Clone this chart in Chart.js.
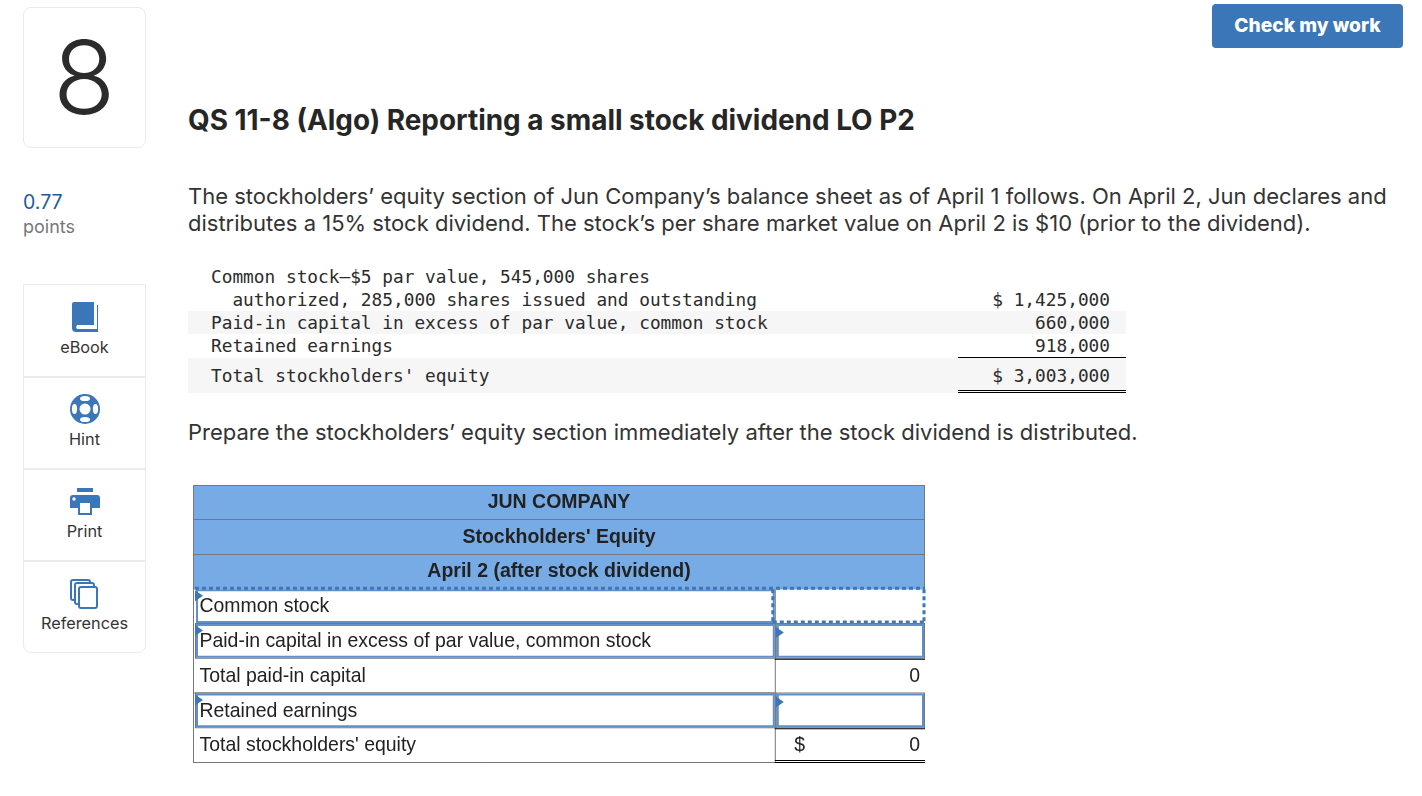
<!DOCTYPE html>
<html lang="en">
<head>
  <meta charset="UTF-8" />
  <title>QS 11-8 (Algo) Reporting a small stock dividend</title>
  <script src="https://cdn.jsdelivr.net/npm/chart.js"></script>
  <style>
    html, body { margin: 0; padding: 0; background: #fff; width: 1422px; height: 796px; overflow: hidden; }
    body { position: relative; font-family: Inter, sans-serif; color: #2b2b2b; }
    .abs { position: absolute; white-space: pre; line-height: 1; }
    .box { position: absolute; box-sizing: border-box; border: 1px solid #ebebeb; }
    .nav { position: absolute; left: 23px; width: 123px; text-align: center; font-size: 16.3px; line-height: 1; color: #333; }
    .nav svg { position: absolute; left: 47px; width: 30px; height: 30px; fill: #3b76b9; }
    .nav span { position: absolute; left: 0; width: 123px; }
    .mono { font-family: "DejaVu Sans Mono", monospace; font-size: 17.8px; }
    .band { position: absolute; left: 188px; width: 938px; background: #f6f6f6; }
    .rule { position: absolute; left: 958px; width: 168px; background: #000; height: 1px; }
    .para { font-size: 22px; left: 188px; color: #333; }
    #button { position: absolute; left: 1212px; top: 4px; width: 191px; height: 44px; border-radius: 4px; background: #3b76b9;
      color: #fff; font-weight: 800; font-size: 19.2px; line-height: 42px; text-align: center; }
    #sheet { position: absolute; left: 190px; top: 480px; }
  </style>
</head>
<body>
  <div class="box" style="left:23px;top:7px;width:123px;height:141px;border-radius:8px"></div>
  <div class="abs" style="left:53px;top:26px;font-size:102px;font-weight:300">8</div>
  <div class="abs" style="left:23px;top:193px;font-size:19.5px;color:#1d5a9c">0.77</div>
  <div class="abs" style="left:23px;top:218px;font-size:18px;color:#777">points</div>

  <div class="box" style="left:23px;top:284px;width:123px;height:369px;border-radius:0 0 8px 8px"></div>
  <div class="box" style="left:23px;top:376px;width:123px;height:1px"></div>
  <div class="box" style="left:23px;top:468px;width:123px;height:1px"></div>
  <div class="box" style="left:23px;top:560px;width:123px;height:1px"></div>

  <div class="nav" style="top:302px">
    <svg viewBox="0 0 30 30"><path d="M4 0h20v23H7a3 3 0 0 0 0 4h20V3h1v27H6a4 4 0 0 1-4-4V2a2 2 0 0 1 2-2z"/></svg>
    <span style="top:37px">eBook</span>
  </div>
  <div class="nav" style="top:394px">
    <svg viewBox="0 0 30 30"><circle cx="15" cy="15" r="15"/><g fill="#fff"><circle cx="15" cy="15" r="5.5"/><ellipse cx="15" cy="4.5" rx="5" ry="2.6"/><ellipse cx="15" cy="25.500" rx="5" ry="2.6"/><ellipse cx="4.5" cy="15" rx="2.6" ry="5"/><ellipse cx="25.500" cy="15" rx="2.6" ry="5"/></g></svg>
    <span style="top:37px">Hint</span>
  </div>
  <div class="nav" style="top:487px">
    <svg viewBox="0 0 30 30"><rect x="7" y="1" width="16" height="4"/><path d="M3 8h24a3 3 0 0 1 3 3v10H0V11a3 3 0 0 1 3-3z"/><circle cx="4" cy="12" r="1.700" fill="#fff"/><rect x="8" y="14" width="14" height="14"/><rect x="10" y="16" width="10" height="10" fill="#fff"/></svg>
    <span style="top:36px">Print</span>
  </div>
  <div class="nav" style="top:579px">
    <svg viewBox="0 0 30 30" style="fill:none;stroke:#3b76b9;stroke-width:2"><rect x="1" y="1" width="19" height="20" rx="2" fill="#fff"/><rect x="5" y="4" width="19" height="21" rx="2" fill="#fff"/><rect x="9" y="8" width="18" height="21" rx="2" fill="#fff"/></svg>
    <span style="top:36px">References</span>
  </div>

  <div id="button">Check my work</div>

  <div class="abs" style="left:188px;top:107px;font-size:27.9px;font-weight:700;color:#262626">QS 11-8 (Algo) Reporting a small stock dividend LO P2</div>
  <div class="abs para" style="top:185px">The stockholders’ equity section of Jun Company’s balance sheet as of April 1 follows. On April 2, Jun declares and</div>
  <div class="abs para" style="top:212px">distributes a 15% stock dividend. The stock’s per share market value on April 2 is $10 (prior to the dividend).</div>
  <div class="abs para" style="top:421px">Prepare the stockholders’ equity section immediately after the stock dividend is distributed.</div>

  <div class="band" style="top:311px;height:23px"></div>
  <div class="band" style="top:358px;height:35px"></div>
  <div class="rule" style="top:357px"></div>
  <div class="rule" style="top:390px"></div>
  <div class="rule" style="top:392px"></div>
  <div id="balance"></div>

  <canvas id="sheet" width="740" height="290" style="width:740px;height:290px"></canvas>

  <script>
    // Balance sheet as of April 1
    const balanceLines = [
      'Common stock—$5 par value, 545,000 shares',
      '  authorized, 285,000 shares issued and outstanding',
      'Paid-in capital in excess of par value, common stock',
      'Retained earnings',
      "Total stockholders' equity"
    ];
    const balanceAmounts = ['', '$ 1,425,000', '660,000', '918,000', '$ 3,003,000'];
    const balanceTextTop = [268, 291, 314, 337, 367];

    // Worksheet rows
    const headerLines = ['JUN COMPANY', "Stockholders' Equity", 'April 2 (after stock dividend)'];
    const rowLabels = ['Common stock', 'Paid-in capital in excess of par value, common stock', 'Total paid-in capital', 'Retained earnings', "Total stockholders' equity"];
    const rowAmounts = [null, null, 0, null, 0];
    const rowPrefix = ['', '', '', '', '$'];
    const labelKinds = ['focusRow', 'select', 'plain', 'select', 'plain'];
    const amountKinds = ['focus', 'input', 'subtotal', 'input', 'total'];

    const BLUE = '#3b76b9';
    const FRAME = '#5f90c9';
    const GRAY = '#777';
    const LABEL_END = 581;
    const TABLE_END = 731;

    const balance = document.getElementById('balance');
    balanceLines.forEach((line, i) => {
      const left = document.createElement('div');
      left.className = 'abs mono';
      left.style.cssText = `left:211px;top:${balanceTextTop[i]}px`;
      left.textContent = line;
      balance.appendChild(left);
      const right = document.createElement('div');
      right.className = 'abs mono';
      right.style.cssText = `right:312px;top:${balanceTextTop[i]}px`;
      right.textContent = balanceAmounts[i];
      balance.appendChild(right);
    });

    // One band per row, laid out by the category scale
    const headerBand = headerLines.map(() => [0, TABLE_END]).concat(rowLabels.map(() => null));
    const labelBand = headerLines.map(() => null).concat(rowLabels.map(() => [0, LABEL_END]));
    const amountBand = headerLines.map(() => null).concat(rowLabels.map(() => [LABEL_END, TABLE_END]));

    function rect(bar) {
      const p = bar.getProps(['x', 'y', 'base', 'height'], true);
      return { l: p.base, r: p.x, t: p.y - p.height / 2, b: p.y + p.height / 2, cy: p.y };
    }

    function line(ctx, x1, y1, x2, y2, color, width, dash) {
      ctx.save();
      ctx.beginPath();
      ctx.strokeStyle = color;
      ctx.lineWidth = width;
      ctx.setLineDash(dash || []);
      ctx.moveTo(x1, y1);
      ctx.lineTo(x2, y2);
      ctx.stroke();
      ctx.restore();
    }

    function triangle(ctx, x, y) {
      ctx.fillStyle = BLUE;
      ctx.beginPath();
      ctx.moveTo(x, y);
      ctx.lineTo(x + 8, y + 5.5);
      ctx.lineTo(x, y + 11);
      ctx.closePath();
      ctx.fill();
    }

    function inputFrame(ctx, r, x1, x2, outer) {
      if (outer) {
        ctx.strokeStyle = GRAY;
        ctx.lineWidth = 1;
        ctx.strokeRect(x1 + 0.5, r.t - 0.5, x2 - x1 - 1, r.b - r.t);
      }
      ctx.strokeStyle = FRAME;
      ctx.lineWidth = 2;
      ctx.strokeRect(x1 + 2, r.t + 1, x2 - x1 - 4, r.b - r.t - 3);
    }

    const worksheetPlugin = {
      id: 'worksheet',
      afterDatasetsDraw(chart) {
        const ctx = chart.ctx;
        const header = chart.getDatasetMeta(0).data;
        const labels = chart.getDatasetMeta(1).data;
        const amounts = chart.getDatasetMeta(2).data;
        const area = chart.chartArea;
        const offset = headerLines.length;
        ctx.save();

        // header rows
        ctx.textBaseline = 'middle';
        ctx.font = 'bold 19.5px "Liberation Sans"';
        ctx.textAlign = 'center';
        headerLines.forEach((text, i) => {
          const r = rect(header[i]);
          line(ctx, r.l, Math.floor(r.t) + 0.5, r.r, Math.floor(r.t) + 0.5, GRAY, 1);
          ctx.fillStyle = '#222';
          ctx.fillText(text, (r.l + r.r) / 2, r.cy);
        });
        line(ctx, area.left + 0.5, area.top, area.left + 0.5, area.bottom, GRAY, 1);
        line(ctx, area.right - 0.5, area.top, area.right - 0.5, rect(amounts[offset]).t, GRAY, 1);

        // body rows
        ctx.font = '19.45px "Liberation Sans"';
        rowLabels.forEach((text, i) => {
          const lab = rect(labels[offset + i]);
          const amt = rect(amounts[offset + i]);
          line(ctx, amt.l + 0.5, amt.t, amt.l + 0.5, amt.b, GRAY, 1);
          if (labelKinds[i] === 'plain') {
            line(ctx, lab.l, lab.b - 0.5, lab.r, lab.b - 0.5, GRAY, 1);
          } else {
            inputFrame(ctx, lab, lab.l + 2, lab.r + 1, labelKinds[i] === 'select');
            triangle(ctx, lab.l + 2, lab.t + 1);
          }
          const kind = amountKinds[i];
          if (kind === 'input') {
            inputFrame(ctx, amt, amt.l + 1, amt.r, true);
            triangle(ctx, amt.l + 1, amt.t + 3);
          } else if (kind === 'focus') {
            const dash = [4, 3];
            line(ctx, lab.l + 2, amt.t - 1, amt.r, amt.t - 1, BLUE, 3, dash);
            line(ctx, amt.l - 2, amt.b - 2, amt.r, amt.b - 2, BLUE, 3, dash);
            line(ctx, amt.l - 2, amt.t, amt.l - 2, amt.b - 2, BLUE, 3, dash);
            line(ctx, amt.r - 1, amt.t, amt.r - 1, amt.b - 2, BLUE, 3, dash);
          } else if (kind === 'subtotal') {
            line(ctx, amt.l, amt.t + 0.5, amt.r, amt.t + 0.5, '#000', 1);
          } else if (kind === 'total') {
            line(ctx, amt.l, amt.t + 0.5, amt.r, amt.t + 0.5, '#000', 1);
            line(ctx, amt.l, amt.b - 2.5, amt.r, amt.b - 2.5, '#000', 1);
            line(ctx, amt.l, amt.b - 0.5, amt.r, amt.b - 0.5, '#000', 1);
          }
          ctx.fillStyle = '#222';
          ctx.textAlign = 'left';
          ctx.fillText(text, lab.l + 6.5, lab.cy + 0.5);
          if (rowPrefix[i]) ctx.fillText(rowPrefix[i], amt.l + 19.5, amt.cy + 0.5);
          if (rowAmounts[i] !== null) {
            ctx.textAlign = 'right';
            ctx.fillText(String(rowAmounts[i]), amt.r - 5, amt.cy + 0.5);
          }
        });
        ctx.restore();
      }
    };

    new Chart(document.getElementById('sheet').getContext('2d'), {
      type: 'bar',
      data: {
        labels: headerLines.concat(rowLabels),
        datasets: [
          { label: 'Header', data: headerBand, backgroundColor: '#77abe6', grouped: false, barPercentage: 1, categoryPercentage: 1 },
          { label: 'Row', data: labelBand, backgroundColor: '#fff', grouped: false, barPercentage: 1, categoryPercentage: 1 },
          { label: 'Amount', data: amountBand, backgroundColor: '#fff', grouped: false, barPercentage: 1, categoryPercentage: 1 }
        ]
      },
      options: {
        indexAxis: 'y',
        responsive: false,
        animation: false,
        layout: { padding: { left: 3, top: 5, right: 5, bottom: 7 } },
        plugins: { legend: { display: false }, tooltip: { enabled: false }, title: { display: false } },
        scales: {
          x: { display: false, min: 0, max: TABLE_END },
          y: { display: false }
        }
      },
      plugins: [worksheetPlugin]
    });
  </script>
</body>
</html>
